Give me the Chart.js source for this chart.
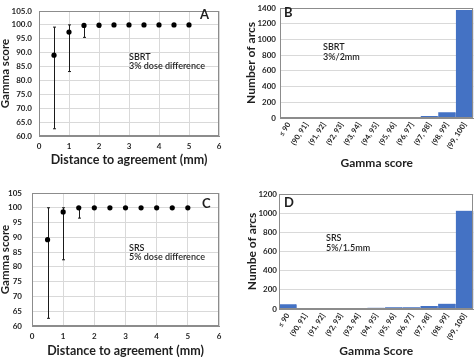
<!DOCTYPE html>
<html><head><meta charset="utf-8">
<script src="https://cdn.jsdelivr.net/npm/chart.js@4.4.1/dist/chart.umd.min.js"></script>
<style>
html,body{margin:0;padding:0;background:#fff;width:474px;height:357px;overflow:hidden}
canvas{position:absolute}
</style></head><body>
<canvas id="cA" width="237" height="178" style="left:0;top:0"></canvas>
<canvas id="cB" width="237" height="178" style="left:237px;top:0"></canvas>
<canvas id="cC" width="237" height="179" style="left:0;top:178px"></canvas>
<canvas id="cD" width="237" height="179" style="left:237px;top:178px"></canvas>
<script>
// ---- data ----
const dtaValues = [0.5, 1, 1.5, 2, 2.5, 3, 3.5, 4, 4.5, 5];
const gammaA = [89.1, 97.4, 99.8, 99.9, 100, 100, 100, 100, 100, 100];
const lowA   = [62.6, 83.2, 95.5, 99.2, 100, 100, 100, 100, 100, 100];
const highA  = [99.2, 100, 100, 100, 100, 100, 100, 100, 100, 100];
const gammaC = [89.2, 98.6, 100, 100, 100, 100, 100, 100, 100, 100];
const lowC   = [62.6, 82.4, 96.5, 100, 100, 100, 100, 100, 100, 100];
const highC  = [100, 100, 100, 100, 100, 100, 100, 100, 100, 100];
const binLabels = ['≤ 90', '(90, 91]', '(91, 92]', '(92, 93]', '(93, 94]', '(94, 95]', '(95, 96]', '(96, 97]', '(97, 98]', '(98, 99]', '(99, 100]'];
const arcsB = [8, 0, 0, 0, 0, 4, 6, 13, 24, 74, 1375];
const arcsD = [49, 0, 0, 0, 0, 14, 17, 17, 31, 56, 1026];

const FONT = 'Lato, "Open Sans", sans-serif';
const TXT = '#1f1f1f';
const GRID = '#d9d9d9';
const BORDER = '#8c8c8c';

// plugins
const boxPlugin = {
  id: 'box',
  afterDraw(chart) {
    const a = chart.chartArea, ctx = chart.ctx;
    ctx.save();
    ctx.strokeStyle = BORDER; ctx.lineWidth = 1;
    ctx.strokeRect(Math.round(a.left) + 0.5, Math.round(a.top) + 0.5, Math.round(a.right - a.left) - 1, Math.round(a.bottom - a.top) - 1);
    ctx.restore();
  }
};
const errPlugin = {
  id: 'errbars',
  beforeDatasetsDraw(chart) {
    const ctx = chart.ctx, xs = chart.scales.x, ys = chart.scales.y;
    chart.data.datasets.forEach(ds => {
      if (!ds.errLow) return;
      ctx.save();
      ctx.strokeStyle = '#1a1a1a'; ctx.lineWidth = 1;
      ds.data.forEach((p, i) => {
        const x = Math.round(xs.getPixelForValue(p.x)) + 0.5;
        const y1 = ys.getPixelForValue(ds.errLow[i]);
        const y2 = ys.getPixelForValue(ds.errHigh[i]);
        if (Math.abs(y1 - y2) < 0.5) return;
        ctx.beginPath();
        ctx.moveTo(x, y1); ctx.lineTo(x, y2);
        ctx.moveTo(x - 1.5, y1); ctx.lineTo(x + 1.5, y1);
        ctx.moveTo(x - 1.5, y2); ctx.lineTo(x + 1.5, y2);
        ctx.stroke();
      });
      ctx.restore();
    });
  }
};
const notePlugin = {
  id: 'notes',
  afterDraw(chart, args, opts) {
    const ctx = chart.ctx;
    ctx.save();
    ctx.fillStyle = TXT;
    ctx.textBaseline = 'middle';
    (opts.items || []).forEach(it => {
      ctx.font = it.font;
      ctx.textAlign = it.align || 'left';
      ctx.fillText(it.text, it.x, it.y);
    });
    ctx.restore();
  }
};

function scatterChart(id, vals, lo, hi, yDecimals, geom, letter, notes) {
  return new Chart(document.getElementById(id), {
    type: 'scatter',
    data: { datasets: [{
      data: dtaValues.map((x, i) => ({ x, y: vals[i] })),
      errLow: lo, errHigh: hi,
      pointRadius: 2.6, pointHoverRadius: 2.6,
      backgroundColor: '#000', borderColor: '#000', borderWidth: 0
    }]},
    options: {
      responsive: false, animation: false,
      layout: { padding: { top: geom.top, right: geom.right, left: 0, bottom: 0 } },
      plugins: { legend: { display: false }, tooltip: { enabled: false },
        notes: { items: [
          { text: letter, x: geom.letterX, y: geom.letterY, font: 'bold 13px ' + FONT },
          { text: notes[0], x: geom.noteX, y: geom.noteY, font: '600 9px ' + FONT },
          { text: notes[1], x: geom.noteX, y: geom.noteY + 9.5, font: '600 9px ' + FONT }
        ]}
      },
      scales: {
        x: { type: 'linear', min: 0, max: 6,
          afterFit(s) { s.height = geom.xH; },
          grid: { color: GRID, drawTicks: false },
          border: { color: BORDER },
          ticks: { stepSize: 1, padding: geom.xTickPad, color: TXT, font: { family: FONT, size: 8, weight: 'bold', lineHeight: 1 } },
          title: { display: true, text: 'Distance to agreement (mm)', color: TXT, padding: { top: 0, bottom: geom.xTitlePad },
            font: { family: FONT, size: 12.5, weight: 'bold', lineHeight: 1 } }
        },
        y: { min: 60, max: 105,
          afterFit(s) { s.width = geom.yW; },
          grid: { color: GRID, drawTicks: false },
          border: { color: BORDER },
          ticks: { stepSize: 5, padding: geom.yTickPad, color: TXT,
            callback: v => v.toFixed(yDecimals),
            font: { family: FONT, size: 8, weight: 'bold', lineHeight: 1 } },
          title: { display: true, text: 'Gamma score', color: TXT, padding: { top: 0, bottom: 0 },
            font: { family: FONT, size: 11.5, weight: 'bold', lineHeight: 1 } }
        }
      }
    },
    plugins: [errPlugin, boxPlugin, notePlugin]
  });
}

function barChart(id, vals, yMax, yTitle, xTitle, geom, letter, notes) {
  return new Chart(document.getElementById(id), {
    type: 'bar',
    data: { labels: binLabels, datasets: [{
      data: vals, backgroundColor: '#4472c4',
      borderColor: '#7f9dd6', borderWidth: { left: 0, right: 1, top: 0, bottom: 0 },
      barPercentage: 1, categoryPercentage: 1
    }]},
    options: {
      responsive: false, animation: false,
      layout: { padding: { top: geom.top, right: geom.right, left: 0, bottom: 0 } },
      plugins: { legend: { display: false }, tooltip: { enabled: false },
        notes: { items: [
          { text: letter, x: geom.letterX, y: geom.letterY, font: 'bold 13px ' + FONT },
          { text: notes[0], x: geom.noteX, y: geom.noteY, font: '600 9px ' + FONT },
          { text: notes[1], x: geom.noteX, y: geom.noteY + 10.5, font: '600 9px ' + FONT }
        ]}
      },
      scales: {
        x: {
          afterFit(s) { s.height = geom.xH; },
          grid: { display: false, drawTicks: false },
          border: { color: BORDER },
          ticks: { minRotation: 58, maxRotation: 58, autoSkip: false, padding: geom.xTickPad, color: TXT,
            font: { family: FONT, size: 7.5, weight: 'bold', lineHeight: 1 } },
          title: { display: true, text: xTitle, color: TXT, padding: { top: 0, bottom: geom.xTitlePad },
            font: { family: FONT, size: 12, weight: 'bold', lineHeight: 1 } }
        },
        y: { min: 0, max: yMax,
          afterFit(s) { s.width = geom.yW; },
          grid: { color: GRID, drawTicks: false },
          border: { color: BORDER },
          ticks: { stepSize: 200, padding: geom.yTickPad, color: TXT,
            callback: v => String(v),
            font: { family: FONT, size: 8, weight: 'bold', lineHeight: 1 } },
          title: { display: true, text: yTitle, color: TXT, padding: { top: geom.yTitlePad, bottom: 0 },
            font: { family: FONT, size: 12, weight: 'bold', lineHeight: 1 } }
        }
      }
    },
    plugins: [boxPlugin, notePlugin]
  });
}

scatterChart('cA', gammaA, lowA, highA, 1,
  { top: 4, right: 18, xH: 42, yW: 39, xTickPad: 6, xTitlePad: 12, yTickPad: 7,
    letterX: 200, letterY: 15, noteX: 129, noteY: 57 }, 'A', ['SBRT', '3% dose difference']);
scatterChart('cC', gammaC, lowC, highC, 0,
  { top: 15, right: 18, xH: 31, yW: 32, xTickPad: 6, xTitlePad: 0, yTickPad: 10,
    letterX: 202, letterY: 26, noteX: 129, noteY: 70 }, 'C', ['SRS', '5% dose difference']);
barChart('cB', arcsB, 1400, 'Number of arcs', 'Gamma score',
  { top: 4, right: 0, xH: 60, yW: 43, xTickPad: 3, xTitlePad: 9, yTickPad: 4, yTitlePad: 8,
    letterX: 47, letterY: 13, noteX: 86, noteY: 47 }, 'B', ['SBRT', '3%/2mm']);
barChart('cD', arcsD, 1200, 'Numbe of arcs', 'Gamma Score',
  { top: 16, right: 0, xH: 48, yW: 42, xTickPad: 3, xTitlePad: 0, yTickPad: 2, yTitlePad: 9,
    letterX: 47, letterY: 25, noteX: 89, noteY: 60 }, 'D', ['SRS', '5%/1.5mm']);
</script>
</body></html>
